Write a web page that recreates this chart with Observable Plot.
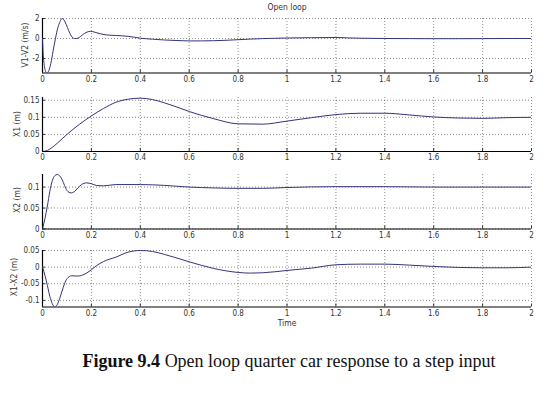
<!DOCTYPE html>
<html>
<head>
<meta charset="utf-8">
<script src="https://cdn.jsdelivr.net/npm/d3@7"></script>
<script src="https://cdn.jsdelivr.net/npm/@observablehq/plot@0.6"></script>
<style>
  html, body { margin: 0; padding: 0; background: #fff; }
  #wrap { position: relative; width: 560px; height: 397px; background: #fff; overflow: hidden; }
  .panel { position: absolute; left: 0; }
  .lab { position: absolute; font-family: "Liberation Sans Narrow", "DejaVu Sans Condensed", "Liberation Sans", Arial, sans-serif; font-size: 8.5px; color: #333; white-space: nowrap; }
  .ylab { transform: translate(-50%, -50%) rotate(-90deg); }
  #caption { position: absolute; left: 0; width: 578px; top: 351px; text-align: center; font-family: "Liberation Serif", "Times New Roman", serif; font-size: 18px; color: #111; }
</style>
</head>
<body>
<div id="wrap">
  <div class="lab" style="left:287px;top:2px;transform:translateX(-50%);">Open loop</div>
  <div id="p1" class="panel"></div>
  <div id="p2" class="panel"></div>
  <div id="p3" class="panel"></div>
  <div id="p4" class="panel"></div>
  <div class="lab ylab" style="left:25px;top:45px;">V1-V2 (m/s)</div>
  <div class="lab ylab" style="left:17px;top:124px;">X1 (m)</div>
  <div class="lab ylab" style="left:17px;top:200px;">X2 (m)</div>
  <div class="lab ylab" style="left:14px;top:277px;">X1-X2 (m)</div>
  <div class="lab" style="left:287px;top:318px;transform:translateX(-50%);">Time</div>
  <div id="caption"><b>Figure 9.4</b> Open loop quarter car response to a step input</div>
</div>
<script>
// ---- Data ----
const xTicks = [0, 0.2, 0.4, 0.6, 0.8, 1, 1.2, 1.4, 1.6, 1.8, 2];

// Panel 1: V1-V2 (m/s)
const tV = [0, 0.003, 0.008, 0.013, 0.019, 0.026, 0.034, 0.043, 0.053, 0.063, 0.072, 0.08, 0.088, 0.097, 0.107, 0.118, 0.13, 0.14, 0.15, 0.163, 0.178, 0.197, 0.215, 0.235, 0.26, 0.3, 0.35, 0.4, 0.45, 0.5, 0.55, 0.6, 0.65, 0.7, 0.75, 0.8, 0.85, 0.9, 0.95, 1.0, 1.1, 1.2, 1.25, 1.3, 1.4, 1.5, 1.6, 1.7, 1.8, 1.9, 2.0];
const vRel = [0, -1.6, -2.8, -3.3, -3.45, -3.2, -2.5, -1.3, 0, 1.1, 1.7, 2.0, 1.85, 1.4, 0.8, 0.25, 0.0, 0.0, 0.1, 0.35, 0.6, 0.72, 0.62, 0.48, 0.36, 0.3, 0.22, 0.03, -0.07, -0.15, -0.2, -0.24, -0.24, -0.22, -0.18, -0.12, -0.06, -0.01, 0.02, 0.05, 0.08, 0.1, 0.06, 0.03, 0.0, -0.01, -0.02, -0.02, -0.01, 0, 0];

// Panel 2: X1 (m)
const tX1 = [0, 0.02, 0.04, 0.06, 0.08, 0.1, 0.15, 0.2, 0.25, 0.3, 0.35, 0.4, 0.45, 0.5, 0.55, 0.6, 0.7, 0.8, 0.9, 1.0, 1.1, 1.2, 1.3, 1.4, 1.5, 1.6, 1.7, 1.8, 1.9, 2.0];
const x1 = [0, 0.003, 0.012, 0.024, 0.037, 0.05, 0.079, 0.104, 0.126, 0.144, 0.153, 0.156, 0.152, 0.142, 0.13, 0.117, 0.096, 0.081, 0.08, 0.089, 0.099, 0.108, 0.112, 0.112, 0.107, 0.101, 0.098, 0.097, 0.099, 0.1];

// Panel 3: X2 (m)
const tX2 = [0, 0.01, 0.02, 0.03, 0.04, 0.05, 0.06, 0.07, 0.08, 0.09, 0.1, 0.117, 0.13, 0.145, 0.16, 0.18, 0.2, 0.22, 0.25, 0.3, 0.4, 0.5, 0.6, 0.7, 0.8, 0.9, 1.0, 1.2, 1.4, 1.6, 1.8, 2.0];
const x2 = [0, 0.025, 0.055, 0.09, 0.115, 0.127, 0.13, 0.127, 0.118, 0.104, 0.092, 0.086, 0.089, 0.098, 0.106, 0.11, 0.108, 0.104, 0.103, 0.106, 0.106, 0.104, 0.1, 0.098, 0.097, 0.097, 0.099, 0.101, 0.101, 0.1, 0.1, 0.1];

// Panel 4: X1-X2 (m)
const tD = [0, 0.01, 0.02, 0.03, 0.04, 0.05, 0.06, 0.07, 0.08, 0.09, 0.1, 0.12, 0.14, 0.16, 0.18, 0.2, 0.22, 0.25, 0.3, 0.35, 0.4, 0.45, 0.5, 0.6, 0.7, 0.8, 0.85, 0.9, 0.95, 1.0, 1.1, 1.2, 1.3, 1.4, 1.5, 1.6, 1.7, 1.8, 1.9, 2.0];
const dX = [0, -0.025, -0.055, -0.088, -0.11, -0.12, -0.113, -0.095, -0.072, -0.05, -0.035, -0.026, -0.027, -0.025, -0.018, -0.008, 0.004, 0.017, 0.03, 0.045, 0.05, 0.047, 0.038, 0.016, -0.004, -0.016, -0.018, -0.017, -0.014, -0.01, -0.003, 0.007, 0.009, 0.009, 0.006, 0.002, -0.001, -0.002, -0.002, 0];

// ---- Drawing ----
const LINE = "#34347a";
const fmt = d => String(+(+d).toFixed(2));
function zip(t, v) { return t.map((x, i) => ({t: x, v: v[i]})); }

function panel(id, top, bottom, domain, yTicks, t, v) {
  const mt = 6, mb = 16;
  const h = bottom - top;
  const grid = {stroke: "#000", strokeOpacity: 0.45, strokeDasharray: "1,2", strokeWidth: 1};
  const chart = Plot.plot({
    width: 560,
    height: h + mt + mb,
    marginLeft: 42,
    marginRight: 29,
    marginTop: mt,
    marginBottom: mb,
    style: {fontFamily: "'Liberation Sans Narrow', 'DejaVu Sans Condensed', 'Liberation Sans', Arial, sans-serif", fontSize: "8px", color: "#333", background: "transparent", overflow: "visible"},
    x: {domain: [0, 2]},
    y: {domain: domain},
    marks: [
      Plot.gridX(xTicks, grid),
      Plot.gridY(yTicks, grid),
      Plot.axisX(xTicks, {tickSize: -3, tickPadding: 6, tickFormat: fmt, label: null}),
      Plot.axisY(yTicks, {tickSize: -3, tickPadding: 6, tickFormat: fmt, label: null}),
      Plot.ruleX([0], {stroke: "#000", strokeWidth: 1.2}),
      Plot.ruleY([domain[0]], {stroke: "#000", strokeWidth: 1.2}),
      Plot.line(zip(t, v), {x: "t", y: "v", stroke: LINE, strokeWidth: 1, curve: "monotone-x", clip: true})
    ]
  });
  const el = document.getElementById(id);
  el.style.top = (top - mt) + "px";
  el.appendChild(chart);
}

panel("p1", 17.5, 72, [-3.45, 2], [-2, 0, 2], tV, vRel);
panel("p2", 97, 151, [0, 0.158], [0, 0.05, 0.1, 0.15], tX1, x1);
panel("p3", 173.5, 228, [0, 0.13], [0, 0.05, 0.1], tX2, x2);
panel("p4", 249.5, 306, [-0.12, 0.05], [-0.1, -0.05, 0, 0.05], tD, dX);
</script>
</body>
</html>
